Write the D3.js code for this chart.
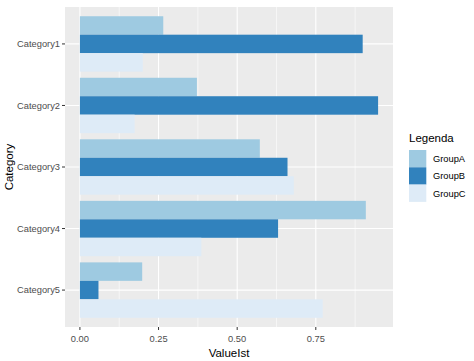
<!DOCTYPE html>
<html>
<head>
<meta charset="utf-8">
<script src="https://cdn.jsdelivr.net/npm/d3@7"></script>
<style>
  body { margin: 0; background: #fff; }
  text { font-family: "Liberation Sans", Arial, sans-serif; }
</style>
</head>
<body>
<svg id="chart" width="474" height="361"></svg>
<script>
var categories = ['Category1', 'Category2', 'Category3', 'Category4', 'Category5'];
var groups = ['GroupA', 'GroupB', 'GroupC'];
var groupA = [0.265, 0.372, 0.572, 0.909, 0.198];
var groupB = [0.899, 0.948, 0.660, 0.630, 0.059];
var groupC = [0.200, 0.174, 0.680, 0.386, 0.772];
var colors = ['#9ecae1', '#3182bd', '#deebf7'];
var xTicks = [0, 0.25, 0.5, 0.75];
var xMinor = [0.125, 0.375, 0.625, 0.875];

var panel = { left: 65, right: 393, top: 7, bottom: 327 }

var svg = d3.select('#chart');

// ggplot style: 5% expansion on the value axis
var maxVal = d3.max([groupA, groupB, groupC], function(a) { return d3.max(a) });
var x = d3.scaleLinear()
    .domain([-0.05 * maxVal, 1.05 * maxVal])
    .range([panel.left, panel.right]);

// discrete axis, 0.6 units of padding each side
var y = d3.scaleLinear()
    .domain([0.4, categories.length + 0.6])
    .range([panel.top, panel.bottom]);

svg.append('rect')
    .attr('x', panel.left).attr('y', panel.top)
    .attr('width', panel.right - panel.left)
    .attr('height', panel.bottom - panel.top)
    .attr('fill', '#ebebeb');

// grid lines
svg.selectAll('.minor').data(xMinor).enter().append('line')
    .attr('x1', function(d) { return x(d) }).attr('x2', function(d) { return x(d) })
    .attr('y1', panel.top).attr('y2', panel.bottom)
    .attr('stroke', '#fff').attr('stroke-width', 0.55);
svg.selectAll('.major').data(xTicks).enter().append('line')
    .attr('x1', function(d) { return x(d) }).attr('x2', function(d) { return x(d) })
    .attr('y1', panel.top).attr('y2', panel.bottom)
    .attr('stroke', '#fff').attr('stroke-width', 1.1);
svg.selectAll('.hmajor').data(categories).enter().append('line')
    .attr('x1', panel.left).attr('x2', panel.right)
    .attr('y1', function(d, i) { return y(i + 1) }).attr('y2', function(d, i) { return y(i + 1) })
    .attr('stroke', '#fff').attr('stroke-width', 1.1);

// bars
var series = [groupA, groupB, groupC];
var barW = 0.3;
series.forEach(function(vals, g) {
    svg.selectAll('.bar' + g).data(vals).enter().append('rect')
        .attr('x', x(0))
        .attr('y', function(d, i) { return y(i + 1 - 0.45 + g * barW) })
        .attr('width', function(d) { return x(d) - x(0) })
        .attr('height', y(barW) - y(0))
        .attr('fill', colors[g]);
});

// x axis
svg.selectAll('.xtick').data(xTicks).enter().append('line')
    .attr('x1', function(d) { return x(d) }).attr('x2', function(d) { return x(d) })
    .attr('y1', panel.bottom).attr('y2', panel.bottom + 3)
    .attr('stroke', '#333').attr('stroke-width', 1);
svg.selectAll('.xlab').data(xTicks).enter().append('text')
    .attr('x', function(d) { return x(d) })
    .attr('y', panel.bottom + 14.5)
    .attr('text-anchor', 'middle')
    .attr('font-size', '9.3px')
    .attr('fill', '#4d4d4d')
    .text(function(d) { return d3.format('.2f')(d) });

// y axis
svg.selectAll('.ytick').data(categories).enter().append('line')
    .attr('x1', panel.left - 3).attr('x2', panel.left)
    .attr('y1', function(d, i) { return y(i + 1) }).attr('y2', function(d, i) { return y(i + 1) })
    .attr('stroke', '#333').attr('stroke-width', 1);
svg.selectAll('.ylab').data(categories).enter().append('text')
    .attr('x', panel.left - 5)
    .attr('y', function(d, i) { return y(i + 1) + 3.3 })
    .attr('text-anchor', 'end')
    .attr('font-size', '9.3px')
    .attr('fill', '#4d4d4d')
    .text(function(d) { return d });

// axis titles
svg.append('text')
    .attr('x', (panel.left + panel.right) / 2)
    .attr('y', 357)
    .attr('text-anchor', 'middle')
    .attr('font-size', '11.5px')
    .attr('fill', '#000')
    .text('ValueIst');
svg.append('text')
    .attr('transform', 'translate(13,' + ((panel.top + panel.bottom) / 2) + ') rotate(-90)')
    .attr('text-anchor', 'middle')
    .attr('font-size', '11.5px')
    .attr('fill', '#000')
    .text('Category');

// legend
var legend = svg.append('g').attr('transform', 'translate(409,0)');
legend.append('text')
    .attr('x', 0).attr('y', 142)
    .attr('font-size', '11.5px')
    .attr('fill', '#000')
    .text('Legenda');
legend.selectAll('.key').data(groups).enter().append('rect')
    .attr('x', 0)
    .attr('y', function(d, i) { return 150 + i * 17.3 })
    .attr('width', 17.3).attr('height', 17.3)
    .attr('fill', function(d, i) { return colors[i] });
legend.selectAll('.klab').data(groups).enter().append('text')
    .attr('x', 24)
    .attr('y', function(d, i) { return 150 + i * 17.3 + 12 })
    .attr('font-size', '9.3px')
    .attr('fill', '#000')
    .text(function(d) { return d });
</script>
</body>
</html>
